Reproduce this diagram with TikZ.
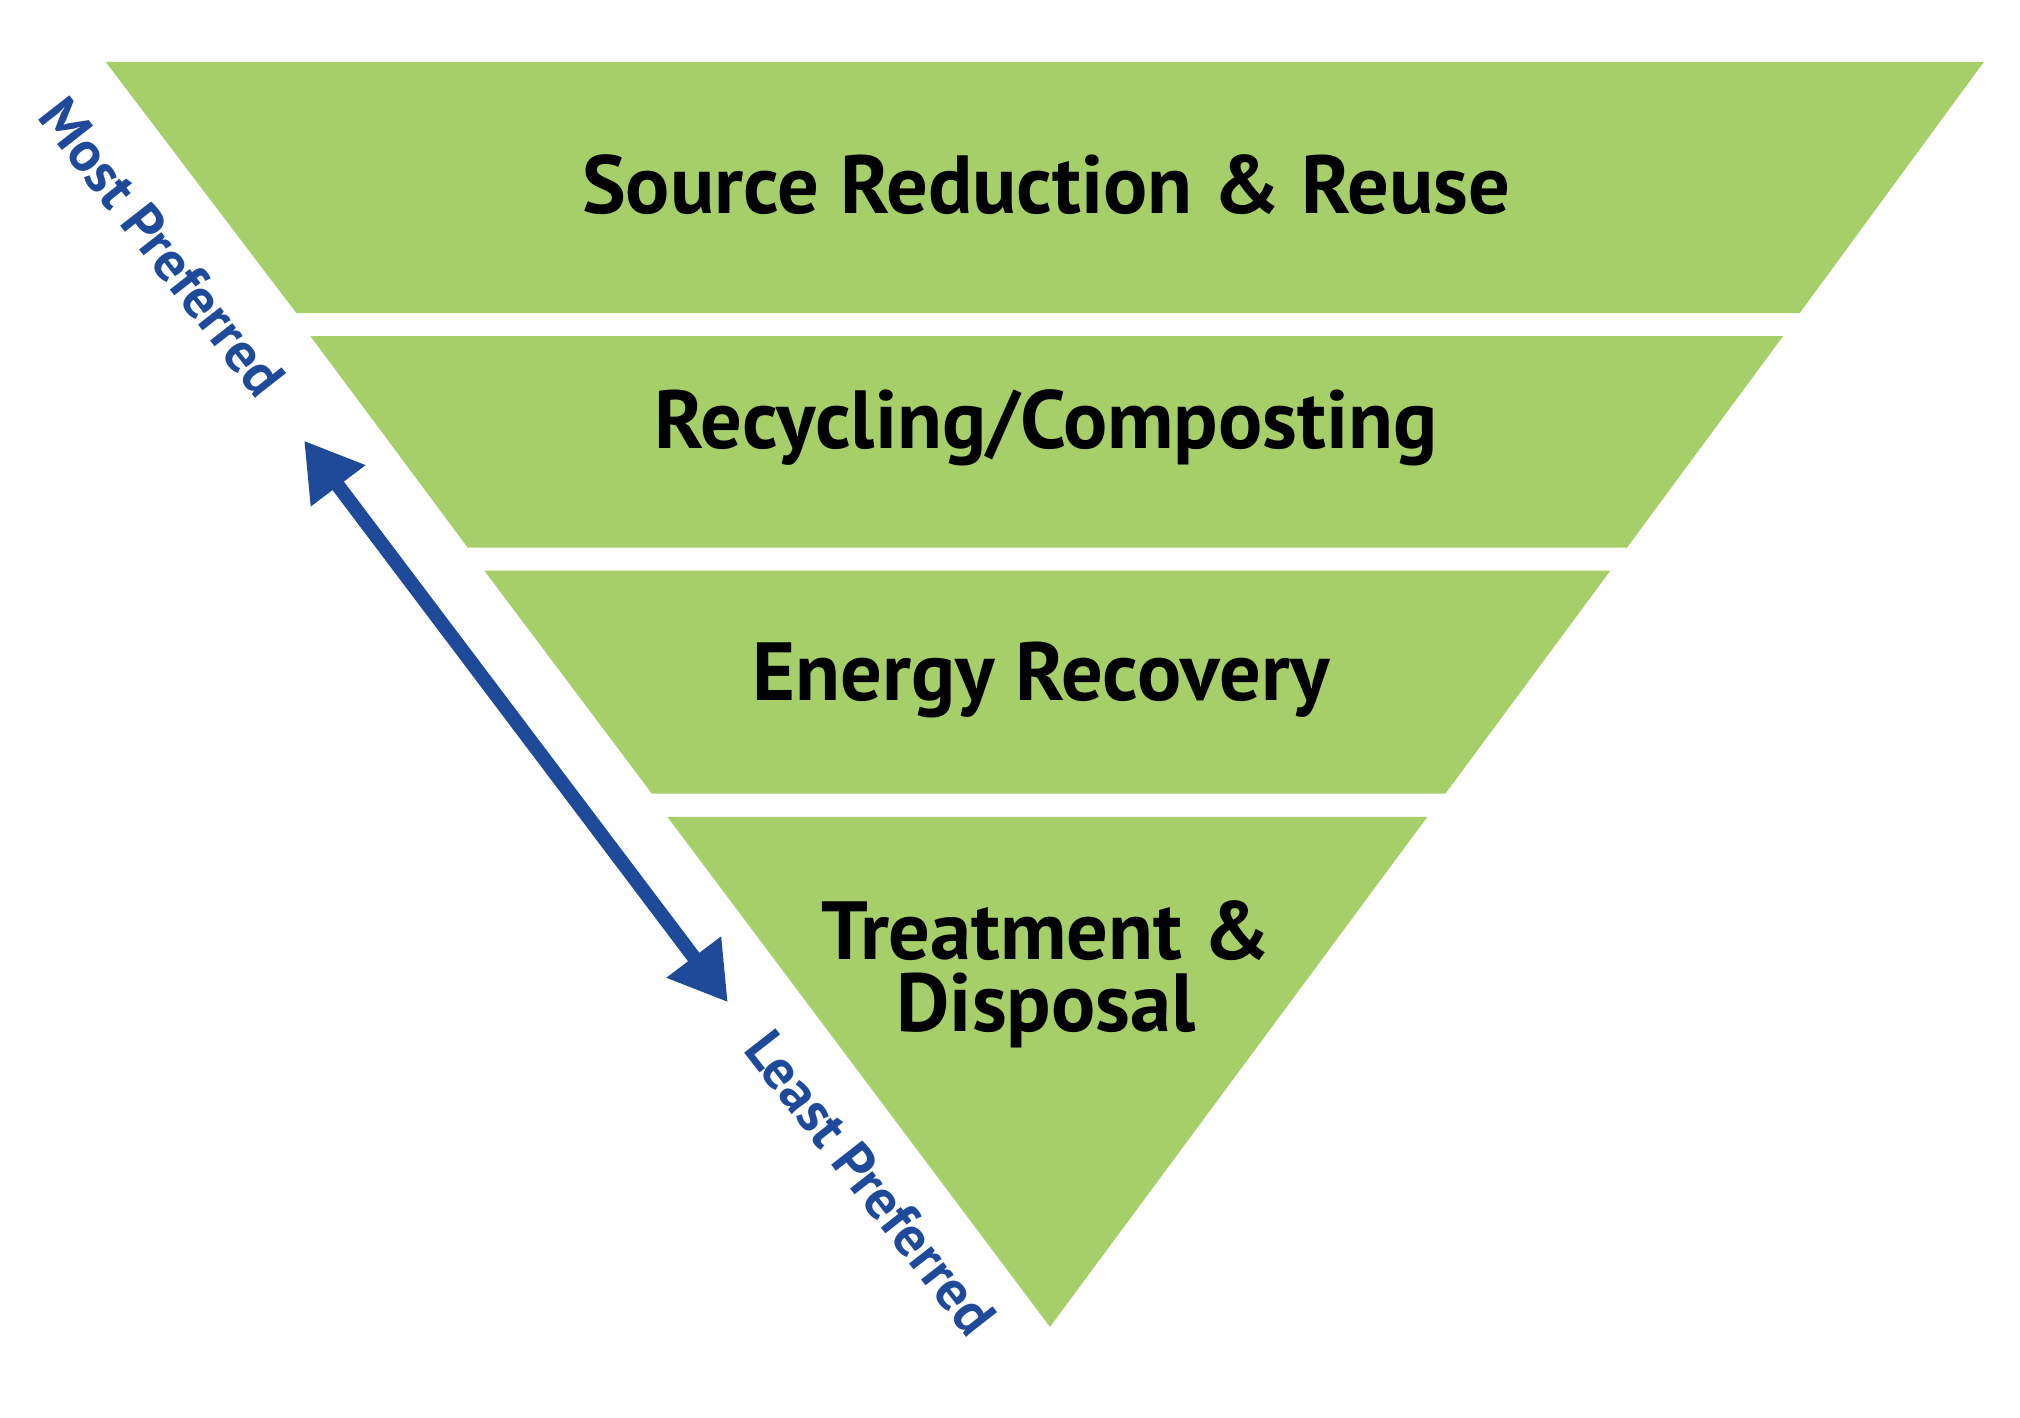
\documentclass[tikz,border=0pt]{standalone}
\usepackage{fontspec}
\setmainfont{PT Sans}
\usetikzlibrary{arrows.meta}
\definecolor{tiergreen}{HTML}{A6CF6A}
\definecolor{prefblue}{HTML}{1F4A9A}
\tikzset{
  tier/.style={fill=tiergreen, draw=none},
  tierlabel/.style={font=\bfseries\fontsize{64}{64}\selectfont, align=center, inner sep=0pt},
  preflabel/.style={font=\bfseries\fontsize{44}{44}\selectfont, text=prefblue, inner sep=0pt}
}
\begin{document}
\begin{tikzpicture}[x=1pt, y=-1pt]
    \useasboundingbox (0,0) rectangle (1568,1100);

    % tiers of the hierarchy
    \fill [tier] (82,48) -- (1540,48) -- (1397,243) -- (230,243) -- cycle;
    \fill [tier] (241,261) -- (1384,261) -- (1263,425) -- (363,425) -- cycle;
    \fill [tier] (376,443) -- (1250,443) -- (1122,616) -- (506,616) -- cycle;
    \fill [tier] (518,634) -- (1108,634) -- (815,1030) -- cycle;

    \node [tierlabel] (reuse)    at (812,143) {Source Reduction \& Reuse};
    \node [tierlabel] (recycle)  at (812,332) {Recycling/Composting};
    \node [tierlabel] (energy)   at (808,528) {Energy Recovery};
    \node [tierlabel] (disposal) at (812,756) {Treatment \&\\[-8pt] Disposal};

    % preference axis
    \coordinate (most)  at (236,342);
    \coordinate (least) at (565,778);
    \draw [prefblue, line width=11pt, {Triangle[width=50pt,length=44pt]}-{Triangle[width=50pt,length=44pt]}] (most) -- (least);

    \node [preflabel, rotate=-52] (mostlbl)  at (126,192) {Most Preferred};
    \node [preflabel, rotate=-52] (leastlbl) at (676,918) {Least Preferred};
\end{tikzpicture}
\end{document}
